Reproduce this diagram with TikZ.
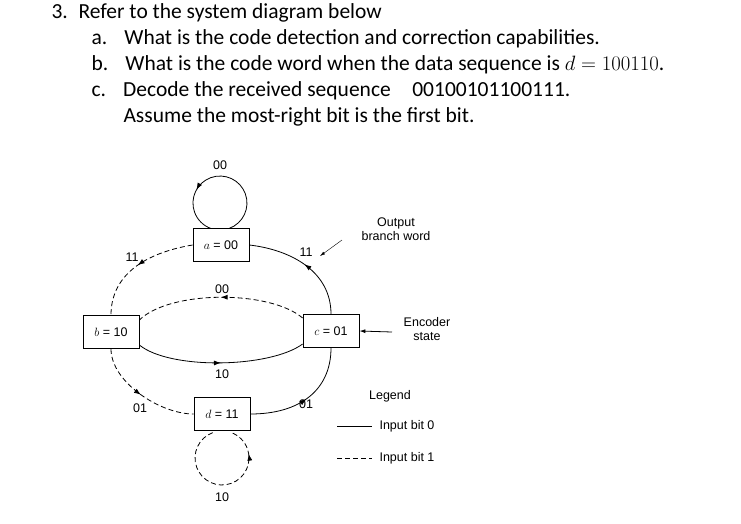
\documentclass[tikz,border=0pt]{standalone}
\usepackage{fontspec}
\setmainfont{Carlito}
\setsansfont{Liberation Sans}
\usetikzlibrary{decorations.markings,arrows.meta}
\begin{document}
\begin{tikzpicture}[x=1pt,y=-1pt,
  st/.style={draw,thick,minimum width=56pt,minimum height=33pt,font=\sffamily\fontsize{12.5}{13}\selectfont,inner sep=1pt},
  lbl/.style={font=\sffamily\fontsize{12.5}{14}\selectfont},
  q/.style={font=\fontsize{21.5}{24}\selectfont,anchor=west},
  edge/.style={thick,postaction={decorate},decoration={markings,mark=at position #1 with {\arrow{Latex[length=7pt,width=5pt]}}}},
  edge/.default=0.5,
  ds/.style={dash pattern=on 5pt off 3pt}]
\useasboundingbox (0,0) rectangle (741,523);
\node[q] (t1) at (48,13) {3.\hspace{0.5em}Refer to the system diagram below};
\node[q] (t2) at (88,39) {a.\hspace{0.8em}What is the code detection and correction capabilities.};
\node[q] (t3) at (88,65) {b.\hspace{0.8em}What is the code word when the data sequence is $d=100110$.};
\node[q] (t4) at (88,91) {c.\hspace{0.8em}Decode the received sequence\hspace{1em}00100101100111.};
\node[q] (t5) at (120,117) {Assume the most-right bit is the first bit.};

\node[st] (a) at (221,245) {$a$ = 00};
\node[st] (b) at (111,332) {$b$ = 10};
\node[st] (c) at (331,331) {$c$ = 01};
\node[st] (d) at (222,414) {$d$ = 11};

% loops
\draw[edge=0.69] (229.2,228.4) arc[start angle=70,end angle=-250,radius=27];
\node[lbl] (l00a) at (220,165) {00};
\draw[edge=0.81,ds] (212.8,432.6) arc[start angle=-110,end angle=-430,radius=27];
\node[lbl] (l10d) at (222,497) {10};

% transitions
\draw[edge,ds] (a.west) .. controls (150,252) and (111,272) .. (b.north);
\node[lbl] (l11a) at (132,257) {11};
\draw[edge] (c.north) .. controls (331,272) and (292,250) .. (a.east);
\node[lbl] (l11c) at (306,252) {11};
\draw[edge,ds] ([yshift=13pt]c.west) .. controls (270,290) and (170,290) .. ([yshift=12pt]b.east);
\node[lbl] (l00b) at (222,289) {00};
\draw[edge] ([yshift=-13pt]b.east) .. controls (170,370) and (270,368) .. ([yshift=-13pt]c.west);
\node[lbl] (l10b) at (222,374) {10};
\draw[edge,ds] (b.south) .. controls (111,382) and (160,414) .. (d.west);
\node[lbl] (l01b) at (140,408) {01};
\draw[edge] (d.east) .. controls (300,414) and (331,390) .. (c.south);
\node[lbl] (l01c) at (306,404) {01};

% annotations
\node[lbl,align=center] (ob) at (396,229) {Output\\branch word};
\coordinate (obt) at (320,256);
\draw[-{Latex[length=5pt,width=3pt]}] (342,240) -- (obt);
\node[lbl,align=center] (es) at (427,329) {Encoder\\state};
\draw[thick,-{Latex[length=6pt,width=4pt]}] (392,332) -- (c.east);
\node[lbl] (leg) at (390,396) {Legend};
\coordinate (s1) at (337,426); \coordinate (s2) at (372,426);
\draw[thick] (s1) -- (s2);
\node[lbl,anchor=west] (i0) at (376,426) {Input bit 0};
\coordinate (d1) at (337,458); \coordinate (d2) at (372,458);
\draw[thick,ds] (d1) -- (d2);
\node[lbl,anchor=west] (i1) at (376,458) {Input bit 1};
\end{tikzpicture}
\end{document}
